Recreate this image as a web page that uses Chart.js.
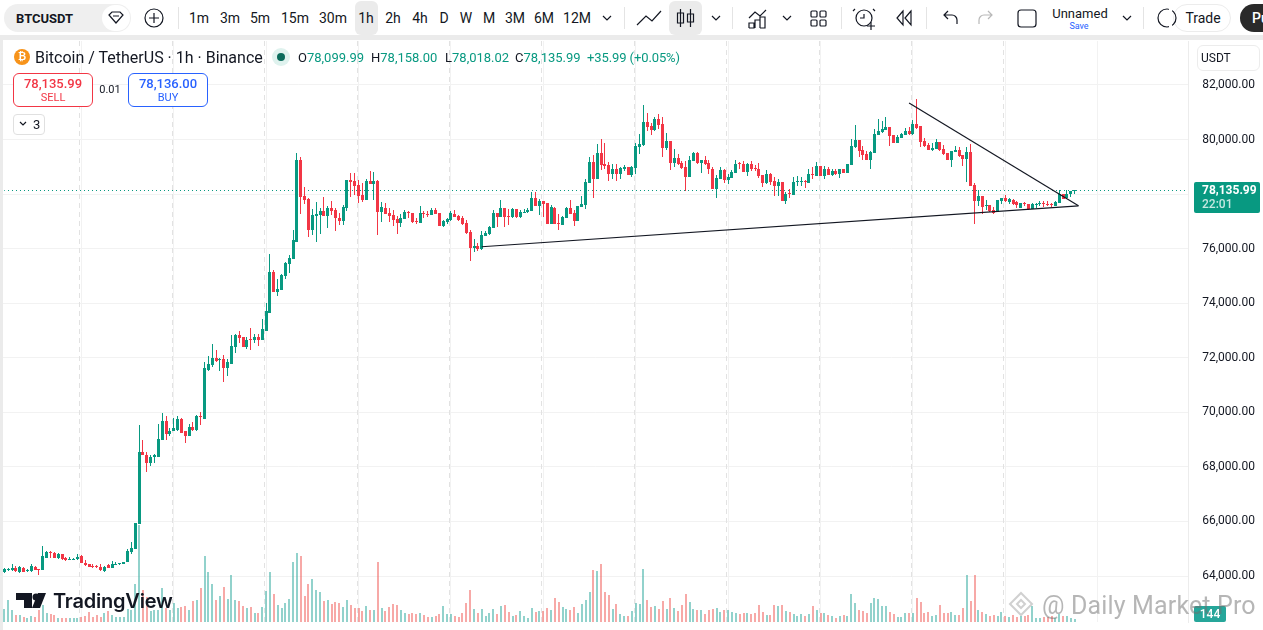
<!DOCTYPE html>
<html>
<head>
<meta charset="utf-8">
<title>BTCUSDT</title>
<script src="https://cdn.jsdelivr.net/npm/chart.js@4"></script>
<style>
  html, body { margin: 0; padding: 0; background: #fff; overflow: hidden; }
  body { width: 1263px; height: 630px; position: relative; font-family: Roboto, sans-serif; color: #131722; }
  canvas { position: absolute; left: 0; top: 0; }
  .top { position: absolute; left: 0; top: 0; width: 1263px; height: 35px; background: #fff; }
  .bar { position: absolute; left: 0; top: 35px; width: 1263px; height: 5px; background: #ebebeb; }
  .side { position: absolute; left: 0; top: 40px; width: 3px; height: 590px; background: #ebebeb; }
  .t { position: absolute; white-space: nowrap; line-height: 1; }
  .c { transform: translateX(-50%); }
  .sep { position: absolute; top: 7px; width: 1px; height: 22px; background: #e4e4e4; }
  .box { position: absolute; box-sizing: border-box; border-radius: 6px; background: #fff; }
  .g { color: #089981; }
  svg { position: absolute; left: 0; top: 0; }
</style>
</head>
<body>
<canvas id="myChart" width="1263" height="630"></canvas>

<!-- toolbar -->
<div class="top"></div>
<div class="bar"></div>
<div class="side"></div>
<div class="box" style="left:4px;top:4px;width:127px;height:28px;background:#efefef;border-radius:14px"></div>
<div class="t" style="left:16px;top:12px;font-size:13px;font-weight:700">BTCUSDT</div>
<div class="box" style="left:102px;top:5px;width:28px;height:26px;border-radius:13px"></div>
<div class="box" style="left:355px;top:1px;width:23px;height:34px;background:#ebebeb"></div>
<div class="box" style="left:669px;top:1px;width:33px;height:34px;background:#ebebeb"></div>
<div class="t c" style="left:199px;top:11px;font-size:14px">1m</div>
<div class="t c" style="left:230px;top:11px;font-size:14px">3m</div>
<div class="t c" style="left:260px;top:11px;font-size:14px">5m</div>
<div class="t c" style="left:295px;top:11px;font-size:14px">15m</div>
<div class="t c" style="left:333px;top:11px;font-size:14px">30m</div>
<div class="t c" style="left:366px;top:11px;font-size:14px">1h</div>
<div class="t c" style="left:393px;top:11px;font-size:14px">2h</div>
<div class="t c" style="left:420px;top:11px;font-size:14px">4h</div>
<div class="t c" style="left:444px;top:11px;font-size:14px">D</div>
<div class="t c" style="left:466px;top:11px;font-size:14px">W</div>
<div class="t c" style="left:489px;top:11px;font-size:14px">M</div>
<div class="t c" style="left:515px;top:11px;font-size:14px">3M</div>
<div class="t c" style="left:544px;top:11px;font-size:14px">6M</div>
<div class="t c" style="left:577px;top:11px;font-size:14px">12M</div>
<div class="sep" style="left:178px"></div>
<div class="sep" style="left:624px"></div>
<div class="sep" style="left:732px"></div>
<div class="sep" style="left:841px"></div>
<div class="sep" style="left:926px"></div>
<div class="sep" style="left:1143px"></div>
<div class="t c" style="left:1080px;top:7px;font-size:13px">Unnamed</div>
<div class="t c" style="left:1079px;top:22px;font-size:9px;color:#2962ff">Save</div>
<div class="box" style="left:1173px;top:4px;width:58px;height:28px;border:1px solid #ececec;border-radius:14px"></div>
<div class="t c" style="left:1203px;top:11px;font-size:14px">Trade</div>
<div class="box" style="left:1240px;top:4px;width:40px;height:28px;background:#2a2a2a;border-radius:14px"></div>
<div class="t" style="left:1252px;top:11px;font-size:14px;color:#fff;font-weight:500">Pu</div>

<!-- toolbar icons -->
<svg width="1263" height="630" fill="none" stroke="#131722" stroke-width="1.2">
  <circle cx="116" cy="18" r="12" fill="#fff" stroke="none"/>
  <path d="M109 15 l3-3 h8 l3 3 l-7 8 z M113 16 h6"/>
  <circle cx="154" cy="18" r="9"/>
  <path d="M154 13 v10 M149 18 h10"/>
  <path d="M603 16 l4 4 l4-4 M712 16 l4 4 l4-4 M783 16 l4 4 l4-4 M1123 16 l4 4 l4-4"/>
  <path d="M637 25 l9-9 l6 5 l9-10"/>
  <path d="M680.5 9 v18 M677.5 13 h6 v10 h-6 z M690.5 9 v18 M687.5 14 h6 v8 h-6 z"/>
  <path d="M749 18 l6-6 l5 4 l6-6 M749 28 v-5 h5 v5 h-5 M755 28 v-8 h5 v8 M760 28 v-11 h5 v11 h-5"/>
  <rect x="811" y="11" width="6" height="6" rx="1"/><rect x="820" y="11" width="6" height="6" rx="1"/>
  <rect x="811" y="20" width="6" height="6" rx="1"/><rect x="820" y="20" width="6" height="6" rx="1"/>
  <circle cx="864" cy="18" r="8"/>
  <path d="M864 14 v4 h-4 M855 9 l-2 2 M873 9 l2 2 M867 26 h8 M871 22 v8"/>
  <path d="M903 11 l-6 7 l6 7 z M911 11 l-6 7 l6 7 z"/>
  <path d="M944 15 h8 a5 5 0 0 1 5 5 v4 M948 11 l-4 4 l4 4"/>
  <path d="M992 15 h-8 a5 5 0 0 0 -5 5 v4 M988 11 l4 4 l-4 4" stroke="#b8b8b8"/>
  <rect x="1018" y="10" width="18" height="17" rx="3"/>
  <circle cx="1167" cy="18" r="9"/>
  <rect x="1169" y="4" width="3" height="28" fill="#fff" stroke="none"/>
  <!-- TradingView mark -->
  <path d="M16 593 h16 v15 h-8 v-8 h-8 z M46 593 l-6 15 h-8 l6-15 z" fill="#131722" stroke="none"/>
  <circle cx="36" cy="597" r="3.5" fill="#131722" stroke="none"/>
</svg>
<svg width="1263" height="630" fill="none" stroke="#aaa" stroke-width="2" style="opacity:.55">
  <path d="M1021 593 l11 11 l-11 11 l-11-11 z M1021 600 l4 4 l-4 4 l-4-4 z"/>
</svg>

<!-- legend -->
<div class="box" style="left:14px;top:49px;width:16px;height:16px;border-radius:8px;background:#f7931a"></div>
<div class="t c" style="left:22px;top:52px;font-size:10px;font-weight:700;color:#fff">₿</div>
<div class="t" style="left:35px;top:50px;font-size:16px">Bitcoin / TetherUS · 1h · Binance</div>
<div class="box" style="left:272px;top:48px;width:18px;height:18px;border-radius:9px;background:#dff2ee"></div>
<div class="box" style="left:277px;top:53px;width:8px;height:8px;border-radius:4px;background:#0b6b5b"></div>
<div class="t" style="left:298px;top:51px;font-size:13px">O<span class="g">78,099.99</span></div>
<div class="t" style="left:371px;top:51px;font-size:13px">H<span class="g">78,158.00</span></div>
<div class="t" style="left:445px;top:51px;font-size:13px">L<span class="g">78,018.02</span></div>
<div class="t" style="left:515px;top:51px;font-size:13px">C<span class="g">78,135.99</span></div>
<div class="t g" style="left:587px;top:51px;font-size:13px;letter-spacing:-.1px">+35.99 (+0.05%)</div>

<div class="box" style="left:13px;top:73px;width:80px;height:34px;border:1px solid #f23645"></div>
<div class="t c" style="left:53px;top:77px;font-size:13px;font-weight:500;color:#f23645">78,135.99</div>
<div class="t c" style="left:53px;top:92px;font-size:11px;color:#f23645">SELL</div>
<div class="t c" style="left:110px;top:84px;font-size:11px">0.01</div>
<div class="box" style="left:128px;top:73px;width:80px;height:34px;border:1px solid #2962ff"></div>
<div class="t c" style="left:168px;top:77px;font-size:13px;font-weight:500;color:#2962ff">78,136.00</div>
<div class="t c" style="left:168px;top:92px;font-size:11px;color:#2962ff">BUY</div>
<div class="box" style="left:13px;top:114px;width:32px;height:21px;border:1px solid #e0e0e0;border-radius:4px"></div>
<div class="t" style="left:33px;top:118px;font-size:13px">3</div>
<svg width="1263" height="630" fill="none" stroke="#131722" stroke-width="1.2">
  <path d="M20 122 l3 3 l3-3 M1250 56 l3 3 l3-3"/>
</svg>

<!-- price scale extras -->
<div class="box" style="left:1197px;top:45px;width:63px;height:26px;border:1px solid #ececec"></div>
<div class="t" style="left:1201px;top:52px;font-size:12px">USDT</div>
<div class="box" style="left:1194px;top:182px;width:66px;height:31px;background:#089981;border-radius:2px"></div>
<div class="t" style="left:1202px;top:184px;font-size:12px;font-weight:700;color:#fff">78,135.99</div>
<div class="t" style="left:1202px;top:198px;font-size:12px;font-weight:500;color:#c5e8e1">22:01</div>
<div class="box" style="left:1194px;top:606px;width:32px;height:16px;background:#26a69a;border-radius:2px"></div>
<div class="t c" style="left:1210px;top:608px;font-size:12px;font-weight:500;color:#fff">144</div>

<!-- watermarks -->
<div class="t" style="left:53px;top:591px;font-size:20px;font-weight:600;color:#131722;font-family:Inter,Roboto,sans-serif;letter-spacing:-.2px">TradingView</div>
<div class="t" style="left:1042px;top:593px;font-size:25px;letter-spacing:.15px;color:rgba(110,110,110,.5)">@ Daily Market Pro</div>

<script>
// prices, one hourly candle per entry
const opens = [
  64150,64210,64210,64310,64160,64290,64170,64180,64340,64260,
  64210,64670,64870,64850,64650,64790,64660,64590,64600,64610,
  64730,64490,64430,64370,64370,64330,64200,64390,64280,64410,
  64430,64430,64500,64870,64980,65890,68560,68450,68160,68380,
  68380,69000,69700,69220,69300,69370,69740,69300,69150,69480,
  69360,69850,69770,71570,71750,72010,71910,71940,71640,71790,
  72410,72820,72750,72380,72670,72640,72750,72640,73000,73660,
  75130,74400,74470,74980,75420,75610,76260,79260,77930,77830,
  76680,77190,77230,77390,77190,77490,77410,77140,77010,77490,
  78520,78480,78340,77970,77780,78480,78370,78480,77340,77490,
  77300,77230,77080,76930,77080,77320,77300,77010,76930,77320,
  77280,77230,77410,77300,76820,76960,77050,77280,77190,77110,
  76930,76600,76020,76090,75980,76460,76530,76750,77300,77160,
  77490,77190,77160,77450,77160,77320,77330,77380,77860,77560,
  77750,77670,76900,77490,76930,76860,77120,77490,77300,77010,
  77530,77600,78390,79170,78550,79500,79100,79060,78730,78920,
  78730,78920,78990,78700,78950,79720,79790,80640,80490,80340,
  80750,80560,79680,79940,79130,79320,79130,78990,78620,79210,
  79500,79130,79240,79130,78920,78180,78550,78880,78510,78590,
  78770,79130,79100,78810,79100,78950,78920,78700,78400,78730,
  78480,78290,78440,77740,78010,77960,78440,78450,78490,78400,
  78730,78660,79020,78660,78920,78700,78840,78730,78920,78770,
  79060,79720,79980,79610,79460,79240,79500,80160,80270,80340,
  80450,80160,79870,80050,80160,80310,80200,80560,80490,79940,
  79790,79610,79650,79900,79650,79500,79240,79540,79610,79430,
  79280,79540,78330,77740,77930,77560,77600,77410,77340,77740,
  77850,77710,77780,77710,77490,77670,77630,77450,77600,77630,
  77670,77630,77610,77560,77670,78020,77850,78000,78100
];
const closes = [
  64240,64240,64310,64180,64320,64150,64210,64350,64210,64230,
  64720,64870,64840,64660,64790,64610,64590,64610,64620,64710,
  64480,64390,64320,64340,64340,64210,64340,64290,64430,64450,
  64450,64520,64900,65010,65930,68560,68420,68160,68380,68420,
  69040,69700,69220,69330,69410,69740,69260,69150,69480,69370,
  69850,69820,71610,71780,72010,71900,71940,71640,71830,72450,
  72820,72710,72380,72670,72640,72750,72640,73040,73700,75130,
  74400,74510,75020,75460,75640,76300,79260,77910,77780,76680,
  77230,77270,77390,77190,77500,77380,77120,77010,77540,78520,
  78460,78300,77930,77780,78480,78370,78480,77340,77530,77270,
  77190,77050,76930,77120,77340,77290,76970,76970,77300,77270,
  77240,77410,77270,76820,77010,77080,77320,77160,77050,76900,
  76570,76020,76090,75980,76490,76570,76790,77300,77160,77490,
  77160,77170,77450,77160,77340,77340,77410,77860,77560,77750,
  77640,76900,77530,76900,76900,77160,77490,77270,77010,77560,
  77640,78430,79170,78550,79500,79060,79020,78730,78920,78730,
  78950,78990,78700,78990,79760,79830,80640,80450,80340,80750,
  80530,79680,79940,79130,79320,79100,78950,78620,79240,79500,
  79130,79240,79100,78920,78180,78590,78880,78510,78620,78810,
  79100,79100,78810,79100,78920,78920,78660,78400,78730,78440,
  78290,78440,77740,78000,77990,78440,78480,78480,78440,78730,
  78700,79020,78660,78920,78700,78840,78730,78920,78770,79100,
  79760,79980,79570,79430,79240,79540,80200,80310,80380,80450,
  80120,79870,80090,80200,80310,80200,80560,80440,79900,79760,
  79610,79680,79900,79610,79460,79240,79570,79610,79390,79280,
  79540,78290,77740,77930,77520,77600,77380,77300,77780,77850,
  77740,77820,77630,77600,77670,77630,77450,77630,77630,77670,
  77650,77600,77590,77710,78020,77820,78020,78110,78136
];
const highs = [
  64290,64280,64450,64370,64350,64330,64240,64430,64350,64270,
  65090,64900,64900,64870,64830,64790,64680,64680,64650,64790,
  64760,64570,64440,64430,64400,64440,64350,64430,64540,64500,
  64460,64520,64990,65240,65960,69520,69000,68560,68450,68490,
  69590,69990,69850,69440,69810,69880,69810,69330,69590,69660,
  69920,70030,71830,72080,72490,72300,72010,72120,71970,72820,
  72890,72970,72780,72780,73110,72860,72890,73410,73990,75790,
  75200,74870,75060,75500,75750,76670,79510,79360,78250,77850,
  77440,77710,77480,77880,77570,77750,77480,77290,77600,78520,
  78770,78770,78520,78400,78560,78850,78820,78520,77720,77660,
  77480,77410,77190,77270,77400,77390,77300,77130,77570,77380,
  77380,77480,77490,77300,77050,77120,77380,77400,77230,77190,
  77050,76680,76340,76200,76640,76630,76820,77410,77300,77780,
  77490,77450,77490,77450,77410,77450,77490,78080,78080,77820,
  77750,77670,77600,77530,77270,77190,77530,77780,77410,77560,
  77930,78570,79350,79450,79830,80010,79870,79170,79120,79120,
  78990,79060,78990,79020,79890,80200,81260,80960,80600,80820,
  80930,80820,80230,79940,79650,79460,79210,79210,79390,79540,
  79540,79240,79390,79240,78990,78700,78990,78920,78730,78880,
  79240,79180,79210,79130,79210,79060,79130,78700,78880,78770,
  78620,78570,78440,78070,78180,78620,78660,78620,78510,78920,
  78990,79170,79020,79020,78990,78920,78920,78920,78920,79100,
  80010,80530,79980,79760,79570,79570,80380,80770,80670,80840,
  80450,80160,80160,80230,80420,80450,80710,81480,80490,80050,
  79880,79870,80010,79900,79790,79500,79570,79760,79720,79430,
  79720,79830,78400,78150,77930,77780,77600,77520,77780,77850,
  77960,77850,77820,77740,77670,77720,77630,77670,77670,77740,
  77740,77740,77670,77740,78150,78020,78150,78110,78158
];
const lows = [
  64100,64180,64180,64160,64110,64130,64150,64160,64210,64020,
  64210,64650,64670,64650,64630,64600,64560,64570,64570,64600,
  64460,64380,64320,64280,64310,64200,64160,64280,64280,64400,
  64390,64430,64500,64810,64980,65890,68420,67830,68050,68130,
  68380,69000,68970,69150,69300,69300,69260,68890,69150,69330,
  69330,69520,69770,71500,71680,71830,71500,71130,71350,71790,
  72190,72530,72380,72340,72300,72560,72450,72640,73000,73660,
  74400,74250,74470,74870,75090,75610,76260,77270,77640,76420,
  76490,76230,76550,77190,76770,77240,76640,76850,76850,77380,
  77910,77970,77660,77700,77780,78370,77780,76490,76980,77270,
  76970,76820,76530,76790,77080,77120,76950,76920,76930,77120,
  77170,77230,77270,76820,76790,76900,77010,77160,77020,76860,
  76530,75540,75880,75900,75940,76460,76490,76750,76790,77160,
  76790,76860,77120,77120,77120,77290,77320,77380,77560,77230,
  77160,76900,76900,76900,76680,76860,77120,77270,76820,77010,
  77530,77450,78390,77870,78550,78880,78920,78480,78550,78480,
  78550,78840,78700,78620,78720,79460,79760,80310,80160,80310,
  80380,79350,79610,78880,78990,79060,78920,78110,78620,79210,
  79120,78770,79060,78720,78180,77870,78550,78400,78370,78590,
  78770,78920,78810,78660,78840,78840,78590,78260,78370,78330,
  77930,77930,77740,77630,77850,77960,78290,78290,78220,78400,
  78550,78660,78660,78550,78700,78660,78700,78590,78770,78770,
  79060,79680,79350,79240,79240,78920,79500,80160,80230,80340,
  79770,79870,79870,80050,80160,80160,80160,80400,79720,79720,
  79610,79570,79650,79570,79430,79240,78990,79540,79350,79020,
  78440,78290,76900,77560,77270,77410,77340,77270,77340,77630,
  77710,77630,77600,77490,77490,77560,77410,77450,77490,77560,
  77520,77560,77520,77560,77670,77820,77820,77890,78018
];
const volumes = [
  130,220,120,70,70,50,40,60,50,120,
  170,90,80,70,40,40,40,40,40,40,
  50,60,100,50,70,50,90,110,70,50,
  50,50,130,120,380,970,320,250,110,120,
  120,340,140,120,190,140,150,160,120,210,
  220,340,660,500,380,220,260,350,230,470,
  220,210,160,140,150,90,90,150,310,500,
  280,170,140,190,230,600,690,660,260,380,
  430,320,300,210,220,180,200,190,150,220,
  170,140,140,110,160,120,120,600,140,110,
  150,180,170,120,90,80,90,80,90,70,
  50,50,60,80,160,80,80,60,50,90,
  190,320,130,90,130,60,90,130,80,160,
  170,100,60,70,110,60,40,140,100,110,
  110,140,120,240,200,150,130,120,150,90,
  180,220,300,520,510,580,300,270,130,180,
  80,60,60,110,190,180,530,220,150,160,
  130,210,130,240,140,110,170,280,200,130,
  120,120,80,120,130,140,100,120,120,100,
  90,80,90,90,80,90,170,100,70,70,
  170,160,170,110,100,80,60,80,60,80,
  160,120,90,90,70,60,40,60,70,60,
  280,190,120,110,90,190,240,230,160,160,
  100,80,50,50,90,90,90,240,200,90,
  100,60,70,170,90,90,100,70,70,140,
  470,210,470,120,100,80,60,70,60,100,
  60,50,70,50,60,60,70,160,40,40,
  50,50,60,40,80,60,60,40,30
];

// empty slots to the right of the last candle are kept on the axis
const slotCount = 308;
const categories = [];
for (let i = 0; i < slotCount; i++) categories.push(i);

// first candle of each day, this is where the vertical grid sits
const dayStarts = [20, 44, 68, 92, 116, 140, 164, 188, 212, 236, 260, 284];
const priceTicks = [64000, 66000, 68000, 70000, 72000, 74000, 76000, 78000, 80000, 82000];
const lastPrice = 78135.99;

// the two drawn trend lines
const lowerTrendX = [124, 279];
const lowerTrendY = [76070, 77570];
const upperTrendX = [235, 279];
const upperTrendY = [81340, 77570];
const lastLineX = [0, slotCount - 1];

const upColor = '#089981';
const downColor = '#f23645';
const upVolume = 'rgba(38,166,154,0.5)';
const downVolume = 'rgba(239,83,80,0.5)';

const isUp = closes.map((c, i) => c >= opens[i]);
const candleColors = isUp.map(u => (u ? upColor : downColor));
const volumeColors = isUp.map(u => (u ? upVolume : downVolume));

function linePoints(xs, ys) {
  return xs.map((x, i) => ({ x: x, y: ys[i] }));
}

// keep bars and the dotted line on whole pixels so they stay sharp
const snapMarks = {
  id: 'snapMarks',
  afterDatasetsUpdate(chart) {
    chart.data.datasets.forEach((ds, d) => {
      const marks = chart.getDatasetMeta(d).data;
      if (ds.snapLine) {
        marks.forEach(el => { el.y = Math.round(el.y) + 0.5; });
      }
      if (ds.type !== 'bar') return;
      marks.forEach(el => {
        const w = ds.barThickness;
        el.x = Math.round(el.x - w / 2) + w / 2;
        let top = Math.round(el.y);
        let base = Math.round(el.base);
        if (top === base) base = top + 1;
        el.y = top;
        el.base = base;
      });
    });
  }
};

// dashed session break half a slot before each day start, not on the future one
const sessionBreaks = {
  id: 'sessionBreaks',
  beforeDatasetsDraw(chart) {
    const c = chart.ctx;
    const area = chart.chartArea;
    c.save();
    c.strokeStyle = '#e2e2e2';
    c.lineWidth = 1;
    c.setLineDash([5, 4]);
    dayStarts.slice(0, -1).forEach(v => {
      const px = Math.round(chart.scales.x.getPixelForValue(v - 0.5)) + 0.5;
      c.beginPath();
      c.moveTo(px, area.top);
      c.lineTo(px, area.bottom);
      c.stroke();
    });
    c.restore();
  }
};

const ctx = document.getElementById('myChart').getContext('2d');
new Chart(ctx, {
  data: {
    labels: categories,
    datasets: [
      {
        type: 'line', order: 0, data: linePoints(lowerTrendX, lowerTrendY),
        borderColor: '#131722', borderWidth: 1.2, pointRadius: 0, tension: 0
      },
      {
        type: 'line', order: 0, data: linePoints(upperTrendX, upperTrendY),
        borderColor: '#131722', borderWidth: 1.2, pointRadius: 0, tension: 0
      },
      {
        type: 'bar', order: 1, grouped: false, barThickness: 3, inflateAmount: 0, minBarLength: 1,
        data: opens.map((o, i) => [o, closes[i]]), backgroundColor: candleColors
      },
      {
        type: 'bar', order: 2, grouped: false, barThickness: 1, inflateAmount: 0,
        data: lows.map((l, i) => [l, highs[i]]), backgroundColor: candleColors
      },
      {
        type: 'line', order: 3, snapLine: true, data: linePoints(lastLineX, lastLineX.map(() => lastPrice)),
        borderColor: upColor, borderWidth: 1, borderDash: [1, 3], borderDashOffset: 0.3, pointRadius: 0
      },
      {
        type: 'bar', order: 5, grouped: false, barThickness: 2, inflateAmount: 0, yAxisID: 'yVol',
        data: volumes, backgroundColor: volumeColors
      }
    ]
  },
  options: {
    responsive: false,
    animation: false,
    devicePixelRatio: 1,
    layout: { padding: { left: 2.375, top: 41, bottom: 8, right: 0.8 } },
    plugins: { legend: { display: false }, tooltip: { enabled: false } },
    scales: {
      x: {
        type: 'category', offset: true, position: 'bottom',
        afterBuildTicks(axis) { axis.ticks = dayStarts.map(v => ({ value: v })); },
        afterFit(axis) { axis.height = 0; },
        ticks: { display: false, autoSkip: false },
        border: { display: false },
        grid: { offset: false, drawTicks: false, color: '#f2f2f2' }
      },
      y: {
        position: 'right',
        min: 62314,
        max: 83613,
        afterBuildTicks(axis) { axis.ticks = priceTicks.map(v => ({ value: v })); },
        // the tick padding would otherwise also be kept free below the plot
        afterFit(axis) { axis.width = 74; axis.paddingTop = 0; axis.paddingBottom = 0; },
        ticks: {
          padding: 14,
          crossAlign: 'near',
          color: '#131722',
          font: { family: 'Roboto', size: 12 },
          callback: v => v.toLocaleString('en-US', { minimumFractionDigits: 2 })
        },
        border: { color: '#ececec' },
        grid: { color: '#f2f2f2', drawTicks: false }
      },
      yVol: { display: false, position: 'right', min: 0, max: 5810 }
    }
  },
  plugins: [snapMarks, sessionBreaks]
});
</script>
</body>
</html>
